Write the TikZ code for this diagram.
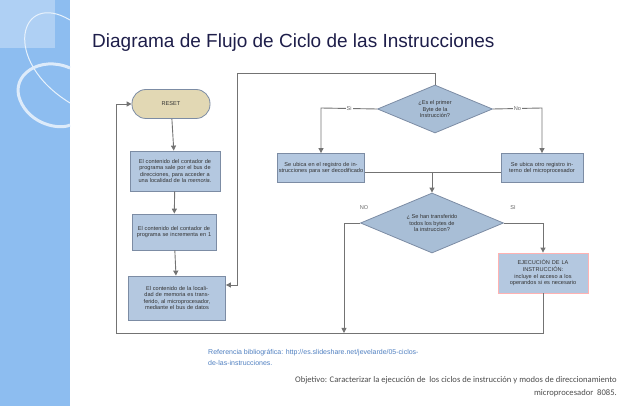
\documentclass[tikz,border=0pt]{standalone}
\usepackage{fontspec}
\setmainfont{Liberation Sans}
\newfontfamily\calib{Carlito}
\usetikzlibrary{shapes.geometric,arrows.meta}
\definecolor{boxf}{HTML}{B4C8E0}
\definecolor{boxd}{HTML}{7C8CA4}
\definecolor{diaf}{HTML}{A8BED6}
\definecolor{resf}{HTML}{E2D8B4}
\definecolor{strip}{HTML}{8DBDF0}
\definecolor{titc}{HTML}{1E1E4A}
\definecolor{refc}{HTML}{4F7FC0}
\begin{document}
\begin{tikzpicture}[x=1pt,y=-1pt,
  every node/.style={font=\fontsize{5.6}{6.6}\selectfont, text=black!80, align=center, inner sep=1pt},
  pbox/.style={draw=boxd, fill=boxf, line width=0.8pt, minimum height=#1, text width=88pt},
  dia/.style={diamond, aspect=2.4, draw=boxd, fill=diaf, line width=0.8pt, inner sep=0pt},
  conn/.style={draw=black!55, line width=0.9pt},
  arr/.style={conn, -{Triangle[length=5pt,width=5pt]}},
  lbl/.style={font=\fontsize{5.6}{6.6}\selectfont, text=black!60}]
\useasboundingbox (0,0) rectangle (638,406);
\fill[strip] (0,0) rectangle (70,406);
\fill[white,opacity=0.3] (0,0) rectangle (55,48);
\draw[white!80!strip, line width=1pt] (70,20) .. controls (20,-10) and (0,60) .. (70,103);
\draw[white!70!strip, line width=3pt] (70,68) .. controls (40,55) and (10,75) .. (20,100) .. controls (30,125) and (60,130) .. (70,125);
\node[font=\fontsize{19}{22}\selectfont, text=titc, anchor=west] (title) at (91,43) {Diagrama de Flujo de Ciclo de las Instrucciones};

\node[draw=boxd, fill=resf, line width=0.8pt, rounded corners=14pt, minimum width=78pt, minimum height=29pt] (reset) at (171,104) {RESET};
\node[pbox=40pt] (b1) at (175,171) {El contenido del contador de programa sale por el bus de direcciones, para acceder a una localidad de la \textit{memoria.}};
\node[pbox=36pt, text width=82pt] (b2) at (174,232) {El contenido del contador de programa se incrementa en 1};
\node[pbox=44pt, text width=95pt] (b3) at (177,298) {El contenido de la localidad de memoria es transferido, al microprocesador, mediante el bus de datos};

\node[dia, minimum width=115pt, minimum height=48pt] (d1) at (435,109) {¿Es el primer\\Byte de la\\Instrucción?};
\node[pbox=29pt, text width=85pt] (b4) at (321,168) {Se ubica en el registro de instrucciones para ser decodificado};
\node[pbox=29pt, text width=80pt] (b5) at (542,168) {Se ubica otro registro interno del microprocesador};
\node[dia, minimum width=143pt, minimum height=60pt] (d2) at (432,223) {¿ Se han transferido\\todos los bytes de\\la instruccion?};
\node[pbox=40pt, text width=88pt, draw=red!30, fill=boxf] (b6) at (543,273) {EJECUCIÓN DE LA\\INSTRUCCIÓN:\\incluye el acceso a los operandos si es necesario};

\coordinate (m) at (432,172);
\coordinate (bot) at (344,333);
\draw[arr] (reset) -- (b1);
\draw[arr] (b1) -- (b2);
\draw[arr] (b2) -- (b3);
\draw[arr] (d1.north) -- (435,73) -- (237,73) -- (237,285) -- (b3.east |- 0,285);
\draw[arr] (d1.west) -- node[lbl, fill=white, pos=0.5]{Si} (321,108) -- (b4.north);
\draw[arr] (d1.east) -- node[lbl, fill=white, pos=0.5]{No} (542,108) -- (b5.north);
\draw[conn] (b4.east |- m) -- (m);
\draw[conn] (b5.west |- m) -- (m);
\draw[arr] (m) -- (d2.north);
\draw[arr] (d2.west) -- (344,223) -- (bot);
\draw[arr] (d2.east) -- (543,223) -- (b6.north);
\draw[conn] (b6.south) -- (543,333) -- (116,333);
\draw[arr] (116,333) -- (116,104) -- (reset.west);
\node[lbl] at (364,208) {NO};
\node[lbl] at (513,208) {SI};

\node[anchor=north west, align=left, text=refc, font=\fontsize{7}{11}\selectfont] (ref) at (207,348) {Referencia bibliográfica: http://es.slideshare.net/jevelarde/05-ciclos-\\de-las-instrucciones.};
\node[anchor=north east, align=right, text=black!70, font=\calib\fontsize{8.6}{13.5}\selectfont] (obj) at (618,375) {Objetivo: Caracterizar la ejecución de \ los ciclos de instrucción y modos de direccionamiento\\microprocesador \ 8085.};
\end{tikzpicture}
\end{document}
